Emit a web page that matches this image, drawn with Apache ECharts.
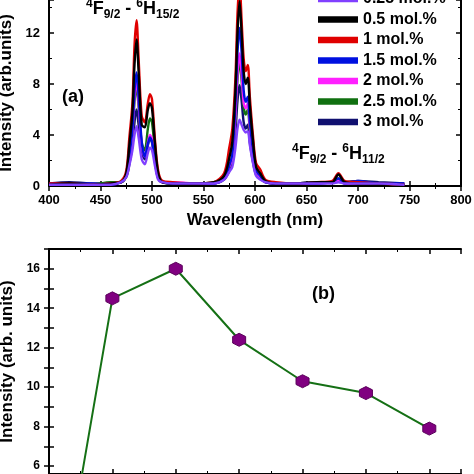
<!DOCTYPE html>
<html><head><meta charset="utf-8">
<script src="https://cdn.jsdelivr.net/npm/echarts@6/dist/echarts.min.js"></script>
<style>html,body{margin:0;padding:0;background:#fff}#c{width:474px;height:474px}</style>
</head><body><div id="c"></div>
<script>
const wavelengths=[400,420,440,460,470,475,478,481,483,485,487,490,493,496,498,500,503,506,510,520,540,560,570,575,578,581,583,585,587,589,591,593,595,598,601,605,610,620,640,660,675,681,687,700,720,745];
const seriesNames=['0.25 mol.%','0.5 mol.%','1 mol.%','1.5 mol.%','2 mol.%','2.5 mol.%','3 mol.%'];
const seriesColors=['#8040ff','#000000','#e00000','#0010e0','#ff20ff','#107010','#101070'];
const s025=[.1,.1,.1,.1,.3,.7,1.6,2.8,4,4.7,3.8,2.1,1.7,2.6,3,2.8,1.5,.5,.3,.2,.2,.2,.5,1.1,1.5,3,4.5,5.2,4.8,4.4,4.2,4.3,3.2,1.8,.8,.5,.3,.2,.2,.2,.2,.3,.2,.2,.2,.1];
const s05=[.1,.2,.1,.2,.3,1,3.2,5.8,9.5,11.5,9,4.8,4.6,6,6.5,6.1,3.2,1,.3,.2,.2,.3,.8,2.2,3.5,7.5,12,14.5,12,9,8,8.5,6.3,3.6,1.5,1,.4,.2,.2,.3,.3,.9,.3,.2,.2,.1];
const s1=[.2,.2,.1,.2,.4,1.2,3.8,6.5,11,13,10,5.5,5,6.5,7.2,6.8,3.5,1.2,.4,.3,.2,.3,1,3,4.5,8.5,13.5,16,13,10,9,9.5,7,4,1.8,1.3,.5,.3,.2,.3,.4,1,.4,.3,.2,.1];
const s15=[.2,.1,.2,.1,.3,.8,2.3,4.5,7.5,8.9,7,3.5,2.3,3.3,3.8,3.5,1.9,.6,.3,.2,.2,.2,.6,1.6,2.5,6.5,10.5,12.4,10.5,7.5,6.6,7,5,2.8,1.2,.8,.3,.2,.2,.2,.3,.6,.2,.4,.2,.2];
const s2=[.1,.1,.1,.2,.3,.8,2.2,4.2,7,8.3,6.5,3.2,2.3,3.4,4,3.7,2,.6,.3,.3,.2,.2,.6,1.5,2.2,5.5,8.8,10.4,8.8,6.5,6.1,6.5,4.6,2.6,1.1,.7,.3,.2,.2,.2,.3,.4,.2,.2,.2,.1];
const s25=[.1,.1,.1,.3,.3,.8,2.1,4,6.6,7.8,6.2,3.4,2.8,4.5,5.3,5,2.6,.8,.3,.2,.2,.2,.6,1.5,2.2,5.2,8.3,9.8,8.3,6.2,5.6,6,4.3,2.4,1,.8,.3,.2,.2,.2,.3,.5,.2,.2,.2,.1];
const s3=[.2,.3,.2,.2,.3,.7,1.7,3.2,5,6,4.8,2.6,2.1,3.2,3.7,3.4,1.8,.6,.3,.2,.2,.2,.5,1.2,1.8,4.2,6.7,7.9,6.7,5,4.5,4.8,3.4,1.9,.9,.6,.3,.2,.2,.3,.3,.6,.3,.4,.3,.2];
const spectra=[s025,s05,s1,s15,s2,s25,s3];
const concentrations=[0.25,0.5,1,1.5,2,2.5,3];
const peakIntensity=[5.2,14.5,16,12.4,10.3,9.7,7.9];
const bTickLabels=[6,8,10,12,14,16];
const bTicks=[6,7,8,9,10,11,12,13,14,15,16,17];

const F='"Liberation Sans", Arial, sans-serif';
const hex='path://M50,0 L93.3,25 L93.3,75 L50,100 L6.7,75 L6.7,25 Z';
function frameAxis(gi,min,max,interval,pos){
  return {type:'value',gridIndex:gi,min:min,max:max,interval:interval,position:pos,
    axisLine:{show:true,lineStyle:{color:'#000',width:2}},
    axisTick:{show:true,inside:true,length:5,lineStyle:{color:'#000',width:1.5}},
    minorTick:{show:true,splitNumber:2,length:3,lineStyle:{color:'#000'}},
    axisLabel:{show:false},splitLine:{show:false}};
}
function bY(pos){
  const a=frameAxis(1,5.6,17,2,pos);
  a.minorTick={show:false};
  a.axisTick.customValues=bTicks;
  return a;
}
const chart=echarts.init(document.getElementById('c'));
const series=spectra.map((d,i)=>({name:seriesNames[i],type:'line',xAxisIndex:0,yAxisIndex:0,symbol:'none',smooth:0.3,
  data:wavelengths.map((w,j)=>[w,d[j]]),lineStyle:{color:seriesColors[i],width:2.4},itemStyle:{color:seriesColors[i]},z:10-i}));
series.reverse();
series.push({type:'line',xAxisIndex:2,yAxisIndex:2,data:concentrations.map((c,i)=>[c,peakIntensity[i]]),
  lineStyle:{color:'#157015',width:2},symbol:hex,symbolSize:13,itemStyle:{color:'#800080',borderColor:'#5a005a',borderWidth:1}});
const lbl={show:true,color:'#000',fontFamily:F,fontWeight:'bold',fontSize:13};
const nameStyle={fontFamily:F,fontWeight:'bold',fontSize:17,color:'#000'};
const yA=frameAxis(0,0,14.59,4,'left');
yA.axisLabel=Object.assign({},lbl,{margin:9,showMaxLabel:false});
yA.name='Intensity (arb.units)';yA.nameLocation='middle';yA.nameGap=30;yA.nameTextStyle=nameStyle;
const yA2=frameAxis(0,0,14.59,4,'right');
const yB=bY('left');
yB.axisLabel=Object.assign({},lbl,{fontSize:12,margin:9,customValues:bTickLabels});
yB.name='Intensity (arb. units)';yB.nameLocation='middle';yB.nameGap=30;yB.nameTextStyle=nameStyle;
const xA=frameAxis(0,400,800,50,'bottom');
xA.axisLabel=Object.assign({},lbl,{margin:8});
xA.name='Wavelength (nm)';xA.nameLocation='middle';xA.nameGap=26;xA.nameTextStyle=nameStyle;
const rich={b:{fontFamily:F,fontWeight:'bold',fontSize:18,fill:'#000'},sup:{fontFamily:F,fontWeight:'bold',fontSize:12,verticalAlign:'top',padding:[0,0,11,0]},sub:{fontFamily:F,fontWeight:'bold',fontSize:12,verticalAlign:'bottom',padding:[9,0,0,0]}};
chart.setOption({
  animation:false,
  grid:[{left:49,right:13,top:0,bottom:288,outerBoundsMode:'none'},{left:49,right:13,top:249,bottom:0,outerBoundsMode:'none'}],
  legend:{data:seriesNames,orient:'vertical',left:313,top:0,padding:[-9,5,5,5],itemWidth:40,itemHeight:12,itemGap:4.5,
    textStyle:{fontFamily:F,fontWeight:'bold',fontSize:16,color:'#000'},icon:'path://M0,42 L100,42 L100,58 L0,58 Z'},
  xAxis:[xA,frameAxis(0,400,800,50,'top'),frameAxis(1,0,3.25,0.5,'bottom'),frameAxis(1,0,3.25,0.5,'top')],
  yAxis:[yA,yA2,yB,bY('right')],
  series:series,
  graphic:[
    {type:'text',left:62,top:88,style:{text:'(a)',font:'bold 18px '+F,fill:'#000'}},
    {type:'text',left:312,top:285,style:{text:'(b)',font:'bold 18px '+F,fill:'#000'}},
    {type:'text',left:86,top:-2,style:{rich:rich,text:'{sup|4}{b|F}{sub|9/2}{b| - }{sup|6}{b|H}{sub|15/2}'}},
    {type:'text',left:292,top:143,style:{rich:rich,text:'{sup|4}{b|F}{sub|9/2}{b| - }{sup|6}{b|H}{sub|11/2}'}}
  ]
});
</script></body></html>
